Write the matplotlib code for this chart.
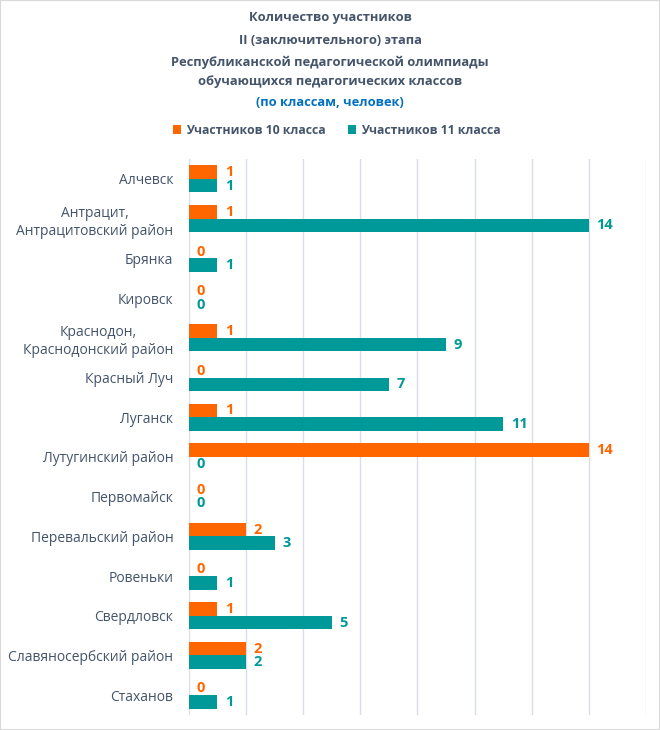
import matplotlib
matplotlib.use("Agg")
import matplotlib.pyplot as plt
import numpy as np

categories = [
    "Алчевск",
    "Антрацит,\nАнтрацитовский район",
    "Брянка",
    "Кировск",
    "Краснодон,\nКраснодонский район",
    "Красный Луч",
    "Луганск",
    "Лутугинский район",
    "Первомайск",
    "Перевальский район",
    "Ровеньки",
    "Свердловск",
    "Славяносербский район",
    "Стаханов",
]
grade10 = [1, 1, 0, 0, 1, 0, 1, 14, 0, 2, 0, 1, 2, 0]
grade11 = [1, 14, 1, 0, 9, 7, 11, 0, 0, 3, 1, 5, 2, 1]
series_names = ["Участников 10 класса", "Участников 11 класса"]
title_lines = [
    "Количество участников",
    "II (заключительного) этапа",
    "Республиканской педагогической олимпиады",
    "обучающихся педагогических классов",
]
subtitle = "(по классам, человек)"

ORANGE = "#FF6600"
TEAL = "#009999"
TEXT = "#44546A"
BLUE = "#0070C0"

plt.rcParams["font.family"] = ["Open Sans", "DejaVu Sans"]

fig = plt.figure(figsize=(6.6, 7.3), dpi=100)
ax = fig.add_axes([0.286, 0.0205, 0.693, 0.7615])

y = np.arange(len(categories))
h = 0.34
ax.barh(y - h / 2, grade10, height=h, color=ORANGE, label=series_names[0], zorder=3)
ax.barh(y + h / 2, grade11, height=h, color=TEAL, label=series_names[1], zorder=3)

for vals, off, col in ((grade10, -h / 2, ORANGE), (grade11, h / 2, TEAL)):
    for yi, v in zip(y, vals):
        ax.annotate(str(v), (v, yi + off), xytext=(5.5, 0), textcoords="offset points",
                    va="center", ha="left", color=col, fontsize=10.5, fontweight="bold")

ax.set_xlim(0, 16)
ax.set_ylim(len(categories) - 0.5, -0.5)
ax.set_xticks(np.arange(0, 17, 2))
ax.set_xticklabels([])
ax.tick_params(axis="x", length=0)
ax.tick_params(axis="y", length=0, pad=11)
ax.set_yticks(y)
ax.set_yticklabels(categories, fontsize=10, color=TEXT, linespacing=1.3)
for lbl in ax.get_yticklabels():
    lbl.set_multialignment("center")
ax.grid(axis="x", color="#D9DEE6", linewidth=1, zorder=0)
for s in ax.spines.values():
    s.set_visible(False)

# title rows, positions in pixels from the top
for line, row in zip(title_lines, [18, 40, 62, 82]):
    fig.text(0.5, 1 - row / 730, line, ha="center", va="center",
             fontsize=9.3, fontweight="bold", color=TEXT)
fig.text(0.5, 1 - 102 / 730, subtitle, ha="center", va="center",
         fontsize=9.3, fontweight="bold", color=BLUE)

leg = fig.legend(loc="center", bbox_to_anchor=(0.51, 1 - 130 / 730), ncol=2, frameon=False,
                 fontsize=8.8, handlelength=0.7, handleheight=0.7, columnspacing=1.8,
                 handletextpad=0.4)
for t in leg.get_texts():
    t.set_color(TEXT)
    t.set_fontweight("bold")

fig.patches.append(plt.Rectangle((0, 0), 1, 1, transform=fig.transFigure,
                                 fill=False, edgecolor="#D9D9D9", linewidth=1.5))
fig.savefig("out.png", dpi=100)
